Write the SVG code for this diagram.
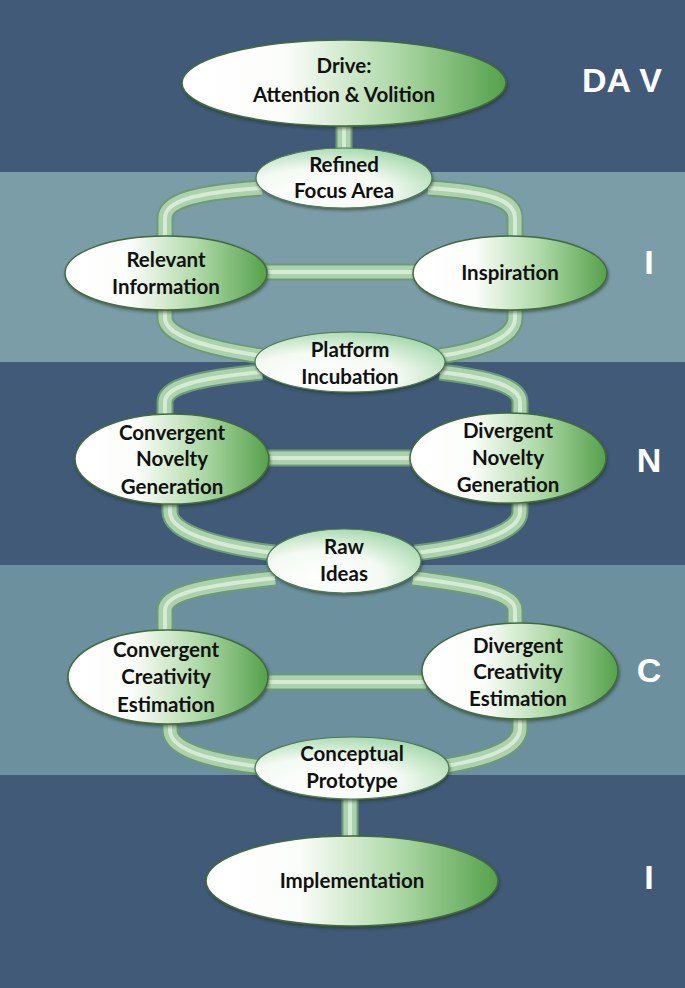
<svg xmlns="http://www.w3.org/2000/svg" width="685" height="988" viewBox="0 0 685 988">
<defs>
<linearGradient id="gBig" x1="0" y1="0" x2="1" y2="0">
<stop offset="0" stop-color="#ffffff"/>
<stop offset="0.32" stop-color="#fbfdfa"/>
<stop offset="0.65" stop-color="#b0daa9"/>
<stop offset="1" stop-color="#55a14b"/>
</linearGradient>
<radialGradient id="gSmall" cx="0.35" cy="0.75" r="0.9">
<stop offset="0" stop-color="#ffffff"/>
<stop offset="0.45" stop-color="#f4faf3"/>
<stop offset="1" stop-color="#8fcf98"/>
</radialGradient>
<filter id="sh" x="-10%" y="-10%" width="120%" height="130%">
<feDropShadow dx="1" dy="2" stdDeviation="1.5" flood-color="#1d2d1d" flood-opacity="0.55"/>
</filter>
</defs>
<style>
.tube0{fill:none;stroke:#6e9a78;stroke-width:17;stroke-linecap:butt}
.tube1{fill:none;stroke:#acd2ad;stroke-width:13;stroke-linecap:butt}
.tube2{fill:none;stroke:#d6ebd4;stroke-width:4;stroke-linecap:butt}
.big{fill:url(#gBig);stroke:#416c3d;stroke-width:1.5;filter:url(#sh)}
.small{fill:url(#gSmall);stroke:#4d7a52;stroke-width:1.2;filter:url(#sh)}
.t{font-family:Lato,"Open Sans","DejaVu Sans",sans-serif;font-weight:bold;font-size:20.5px;fill:#111;text-anchor:middle}
.side{font-family:"Liberation Sans",Arial,sans-serif;font-weight:bold;font-size:34px;fill:#ffffff;text-anchor:middle}
</style>
<g id="bands">
<rect x="0" y="0" width="685" height="172" fill="#415a78"/>
<rect x="0" y="172" width="685" height="190" fill="#7b9da7"/>
<rect x="0" y="362" width="685" height="203" fill="#415a78"/>
<rect x="0" y="565" width="685" height="210" fill="#6c909e"/>
<rect x="0" y="775" width="685" height="213" fill="#415a78"/>
</g>
<g id="connectors">
<g class="tube0">
<path id="c1" d="M344 122 V152"/>
<path id="c2" d="M262 188 C200 192 165 200 165 218 V245"/>
<path id="c3" d="M428 188 C490 192 515 200 515 218 V245"/>
<path id="c4" d="M165 305 V318 C165 338 220 350 262 356"/>
<path id="c5" d="M515 305 V318 C515 338 480 350 440 356"/>
<path id="c6" d="M262 272 H416"/>
<path id="c7" d="M262 372 C200 378 165 386 165 402 V420"/>
<path id="c8" d="M440 372 C490 378 520 386 520 402 V420"/>
<path id="c9" d="M170 498 V512 C170 535 230 548 275 553"/>
<path id="c10" d="M520 498 V512 C520 535 460 548 415 553"/>
<path id="c11" d="M266 458 H414"/>
<path id="c12" d="M275 578 C210 585 165 592 165 610 V635"/>
<path id="c13" d="M413 578 C470 585 515 592 515 610 V628"/>
<path id="c14" d="M170 718 V730 C170 752 220 762 262 767"/>
<path id="c15" d="M520 712 V728 C520 750 480 760 446 766"/>
<path id="c16" d="M264 682 H426"/>
<path id="c17" d="M350 796 V840"/>
</g>
<g class="tube1">
<use href="#c1"/><use href="#c2"/><use href="#c3"/><use href="#c4"/><use href="#c5"/><use href="#c6"/><use href="#c7"/><use href="#c8"/><use href="#c9"/><use href="#c10"/><use href="#c11"/><use href="#c12"/><use href="#c13"/><use href="#c14"/><use href="#c15"/><use href="#c16"/><use href="#c17"/>
</g>
<g class="tube2">
<use href="#c1"/><use href="#c2"/><use href="#c3"/><use href="#c4"/><use href="#c5"/><use href="#c6"/><use href="#c7"/><use href="#c8"/><use href="#c9"/><use href="#c10"/><use href="#c11"/><use href="#c12"/><use href="#c13"/><use href="#c14"/><use href="#c15"/><use href="#c16"/><use href="#c17"/>
</g>
</g>
<g id="drive"><ellipse class="big" cx="344" cy="83" rx="162" ry="43"/><text class="t" x="344" y="73">Drive:</text><text class="t" x="344" y="102">Attention &amp; Volition</text></g>
<g id="refined"><ellipse class="small" cx="344" cy="178" rx="88" ry="30"/><text class="t" x="344" y="172">Refined</text><text class="t" x="344" y="198">Focus Area</text></g>
<g id="relevant"><ellipse class="big" cx="166" cy="273" rx="101" ry="37"/><text class="t" x="166" y="267">Relevant</text><text class="t" x="166" y="294">Information</text></g>
<g id="inspiration"><ellipse class="big" cx="510" cy="273" rx="97" ry="37"/><text class="t" x="510" y="280">Inspiration</text></g>
<g id="platform"><ellipse class="small" cx="350" cy="362" rx="95" ry="30"/><text class="t" x="350" y="357">Platform</text><text class="t" x="350" y="384">Incubation</text></g>
<g id="conv-novelty"><ellipse class="big" cx="172" cy="459" rx="97" ry="45"/><text class="t" x="172" y="440">Convergent</text><text class="t" x="172" y="466">Novelty</text><text class="t" x="172" y="494">Generation</text></g>
<g id="div-novelty"><ellipse class="big" cx="508" cy="458" rx="98" ry="45"/><text class="t" x="508" y="438">Divergent</text><text class="t" x="508" y="465">Novelty</text><text class="t" x="508" y="492">Generation</text></g>
<g id="raw"><ellipse class="small" cx="344" cy="561" rx="77" ry="32"/><text class="t" x="344" y="554">Raw</text><text class="t" x="344" y="581">Ideas</text></g>
<g id="conv-creativity"><ellipse class="big" cx="168" cy="677" rx="100" ry="47"/><text class="t" x="166" y="657">Convergent</text><text class="t" x="166" y="684">Creativity</text><text class="t" x="166" y="712">Estimation</text></g>
<g id="div-creativity"><ellipse class="big" cx="520" cy="671" rx="98" ry="48"/><text class="t" x="518" y="653">Divergent</text><text class="t" x="518" y="679">Creativity</text><text class="t" x="518" y="706">Estimation</text></g>
<g id="conceptual"><ellipse class="small" cx="352" cy="768" rx="97" ry="31"/><text class="t" x="352" y="761">Conceptual</text><text class="t" x="352" y="788">Prototype</text></g>
<g id="implementation"><ellipse class="big" cx="352" cy="881" rx="146" ry="45"/><text class="t" x="352" y="888">Implementation</text></g>
<g id="side-labels">
<text class="side" x="622" y="92">DA V</text>
<text class="side" x="649" y="274">I</text>
<text class="side" x="649" y="472">N</text>
<text class="side" x="649" y="682">C</text>
<text class="side" x="649" y="889">I</text>
</g>
</svg>
